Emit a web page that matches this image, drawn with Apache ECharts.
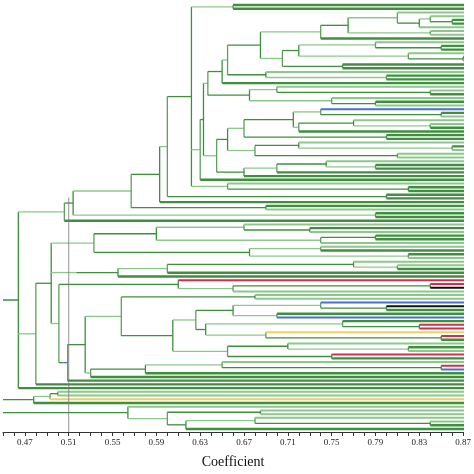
<!DOCTYPE html>
<html><head><meta charset="utf-8">
<script src="https://cdn.jsdelivr.net/npm/echarts@6/dist/echarts.min.js"></script>
<style>html,body{margin:0;padding:0;background:#fff}#c{width:474px;height:474px}</style>
</head><body><div id="c"></div>
<script>
// Dendrogram (leaf letters: g light green, G dark green, b blue, r red, y yellow, k black)
const tickLabels = ['0.47','0.51','0.55','0.59','0.63','0.67','0.71','0.75','0.79','0.83','0.87'];
const cutLine = [0.51];
const treeParts = {
  Aa: '(G,G):0.66',
  Ab1: '((((g,((g,(G,G):0.86):0.84,g):0.83):0.81,(g,g):0.84):0.765,G):0.74',
  Ab2: '(((g,(G,G):0.85):0.79,(g,(G,g):0.87):0.82):0.72,(G,G):0.76):0.705',
  Ab3: '(g,(G,G):0.80):0.69',
  Ab4: '((g,(g,G):0.84):0.70,(g,(G,g):0.79):0.75):0.675',
  Ac1: '(((b,(G,g):0.85):0.74,((g,(g,G):0.84):0.77,G):0.72):0.715,(G,G):0.80):0.67',
  Ac2: '((g,(G,g):0.86):0.72,(g,g):0.81):0.68',
  Ac3: '((g,(G,G):0.79):0.745,G):0.70',
  Ba: '((((g,(G,g):0.73):0.67,((G,G):0.79,g):0.74):0.59,((g,G):0.74,(G,g):0.82):0.675):0.533,((((g,(g,G):0.81):0.77,G):0.60,G):0.555):0.517',
  Red: '(r,((r,k):0.84,g):0.66):0.61',
  Ctop: '((((b,(k,G):0.80):0.74,(G,b):0.70):0.66,((G,(r,r):0.83):0.76,(y,(r,G):0.85):0.69):0.635):0.626,((g,(G,g):0.82):0.71,(r,G):0.75):0.655):0.605',
  X96: '(((g,(r,b):0.85):0.65,G):0.58,G):0.53',
  B1: '(((g,g):0.50,y):0.493,G):0.478',
  B2: '(g,((g,g):0.685,((g,(g,G):0.84):0.68,G):0.617):0.60):0.564'
};
function T(k){return treeParts[k];}
const Asub = '(' + T('Aa') + ',(((((' + T('Ab1') + ',' + T('Ab2') + '):0.685,' + T('Ab3') + '):0.655,G):0.65,' + T('Ab4') + '):0.637,((' + T('Ac1') + ',' + T('Ac2') + '):0.655,(' + T('Ac3') + ',G):0.67):0.645):0.633,G):0.63';
const L6 = '((((((' + Asub + ',(g,(G,G):0.82):0.655):0.622,(G,G):0.80):0.600,G):0.593,(G,g):0.69):0.567,(G,G):0.79):0.514,G):0.506';
const Cn = '(((((g,g):0.68,' + T('Ctop') + '):0.558,' + T('X96') + '):0.525,G):0.509';
const Blue = '(' + T('Red') + ',' + Cn + '):0.505b';
const treeString = '((((' + L6 + ',(' + T('Ba') + ',' + Blue + '):0.501):0.494,G):0.48,G):0.464,' + T('B1') + ',' + T('B2') + '):0.43';

function parse(s){
  s=s.replace(/\s/g,''); let i=0;
  function node(){
    if(s[i]==='('){ i++; const ch=[node()]; while(s[i]===','){i++; ch.push(node());} i++; i++;
      let m=''; while(/[0-9.]/.test(s[i])){m+=s[i];i++;} let col=null; if(/[a-zA-Z]/.test(s[i]||'')){col=s[i];i++;}
      return {ch:ch,h:parseFloat(m),col:col}; }
    const c=s[i]; i++; return {leaf:c};
  }
  return node();
}
const colors={g:'#8cc78c',G:'#3f8f3f',b:'#4a6fd0',r:'#d0304a',y:'#f0d060',k:'#111111',m:'#5e9f5e'};
const root=parse(treeString);
let n=0; (function cnt(d){ if(d.leaf){d.y=n++;} else d.ch.forEach(cnt); if(!d.leaf){d.y=(d.ch[0].y+d.ch[d.ch.length-1].y)/2;} })(root);
const segs=[];
(function walk(d,depth,inh){
  if(d.leaf) return;
  const nc=d.col?colors[d.col]:(inh||(depth%2?colors.m:colors.G));
  segs.push([d.h,d.ch[0].y,d.h,d.ch[d.ch.length-1].y,nc,1.3]);
  d.ch.forEach(c=>{
    if(c.leaf){ segs.push([d.h,c.y,0.95,c.y,colors[c.leaf],c.leaf==='G'?2.4:2]); }
    else { segs.push([d.h,c.y,c.h,c.y,d.col?colors[d.col]:(depth%2?colors.G:colors.g),1.3]); walk(c,depth+1,null); }
  });
})(root,0,null);
const s=425/(n-1); const ymin=-5/s; const ymax=ymin+433/s;
const chart=echarts.init(document.getElementById('c'));
chart.setOption({
  animation:false,
  grid:{left:-4.5,right:0.5,top:0,bottom:41},
  xAxis:{type:'value',min:0.45,max:0.87,interval:0.01,
    axisLine:{onZero:false,lineStyle:{color:'#333'}},axisTick:{length:4,lineStyle:{color:'#333'}},
    splitLine:{show:false},
    axisLabel:{fontFamily:'Liberation Serif',fontSize:9,color:'#222',margin:6,
      formatter:v=>{const t=v.toFixed(2);return tickLabels.indexOf(t)>=0?t:'';}},
    name:'Coefficient',nameLocation:'middle',nameGap:23,
    nameTextStyle:{fontFamily:'Liberation Serif',fontSize:14,color:'#111'}},
  yAxis:{type:'value',inverse:true,min:ymin,max:ymax,show:false},
  series:[
    {type:'custom',clip:true,data:segs,renderItem:(p,api)=>{
      const a=api.coord([api.value(0),api.value(1)]),b=api.coord([api.value(2),api.value(3)]);
      const d=segs[p.dataIndex];
      return {type:'line',shape:{x1:a[0],y1:a[1],x2:b[0],y2:b[1]},style:{stroke:d[4],lineWidth:d[5]}};
    },encode:{x:[0,2],y:[1,3]},z:2},
    {type:'line',symbol:'none',data:[[cutLine[0],ymin+198/s],[cutLine[0],ymax]],lineStyle:{color:'#777',width:0.8},z:3}
  ]
});
</script></body></html>
